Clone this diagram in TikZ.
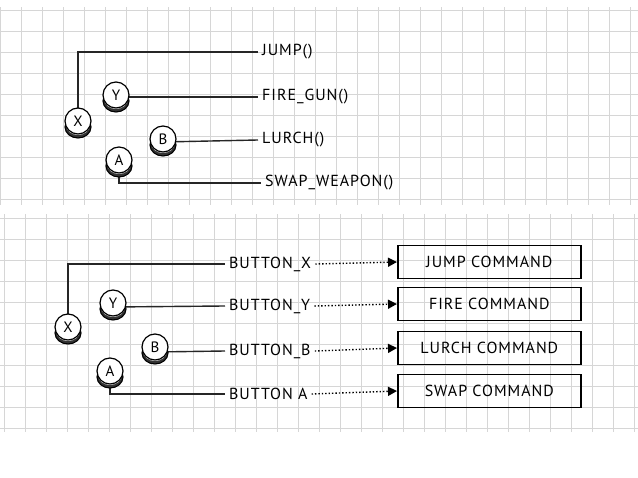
\documentclass[tikz,border=0pt]{standalone}
\usepackage{fontspec}
\setmainfont[LetterSpace=6]{PT Sans}
\usetikzlibrary{arrows.meta}
\begin{document}
\begin{tikzpicture}[x=1pt,y=-1pt,
  wire/.style={line width=1.4pt,black!85},
  lbl/.style={anchor=west,inner xsep=4pt,inner ysep=1pt,font=\fontsize{16}{18}\selectfont},
  cmd/.style={draw,line width=1.6pt,minimum width=183pt,minimum height=33pt,font=\fontsize{16}{18}\selectfont,anchor=west},
  dots/.style={dotted,line width=1.4pt,-{Triangle[length=9pt,width=9pt]}},
  btnlabel/.style={font=\fontsize{15}{17}\selectfont}]
\newcommand{\gbtn}[3]{%
  \draw[line width=1.1pt,fill=black!80] (#1,#2+6) ellipse (13 and 11);
  \fill[white] (#1,#2+4.5) ellipse (11.5 and 9.5);
  \draw[line width=1.2pt,fill=white] (#1,#2) circle (13);
  \node[btnlabel] at (#1,#2) {#3};}
\useasboundingbox (0,0) rectangle (638,478);
\fill[white] (0,0) rectangle (638,478);
\begin{scope}
\clip (0,8) rectangle (638,205);
\foreach \x in {0,21,...,638} \draw[black!16] (\x,0) -- (\x,478);
\foreach \y in {10,31,...,210} \draw[black!16] (0,\y) -- (638,\y);
\end{scope}
\begin{scope}
\clip (0,215) rectangle (638,432);
\foreach \x in {4,25,...,638} \draw[black!16] (\x,0) -- (\x,478);
\foreach \y in {218,239,...,440} \draw[black!16] (0,\y) -- (638,\y);
\end{scope}
% top panel
\node[lbl] (t1) at (258,52) {JUMP()};
\node[lbl] (t2) at (258,97) {FIRE\_GUN()};
\node[lbl] (t3) at (258,140) {LURCH()};
\node[lbl] (t4) at (261,183) {SWAP\_WEAPON()};
\coordinate (ty) at (116,97);
\coordinate (tb) at (163,142);
\draw[wire] (78,115) |- (t1.west);
\draw[wire] (ty) -- (t2.west);
\draw[wire] (tb) -- (t3.west);
\draw[wire] (119,176) |- (t4.west);
\gbtn{78}{121}{X}
\gbtn{116}{95}{Y}
\gbtn{163}{139}{B}
\gbtn{119}{160}{A}
% bottom panel
\node[lbl] (b1) at (225,264) {BUTTON\_X};
\node[lbl] (b2) at (225,306) {BUTTON\_Y};
\node[lbl] (b3) at (225,351) {BUTTON\_B};
\node[lbl] (b4) at (225,394) {BUTTON A};
\node[cmd] (c1) at (397,262) {JUMP COMMAND};
\node[cmd] (c2) at (397,304) {FIRE COMMAND};
\node[cmd] (c3) at (397,348) {LURCH COMMAND};
\node[cmd] (c4) at (397,391) {SWAP COMMAND};
\foreach \i in {1,...,4} \draw[dots] (b\i.east) -- (c\i.west);
\draw[wire] (68,322) |- (b1.west);
\draw[wire] (113,307) -- (b2.west);
\draw[wire] (155,352) -- (b3.west);
\draw[wire] (110,388) |- (b4.west);
\gbtn{68}{327}{X}
\gbtn{113}{303}{Y}
\gbtn{155}{347}{B}
\gbtn{110}{371}{A}
\end{tikzpicture}
\end{document}
